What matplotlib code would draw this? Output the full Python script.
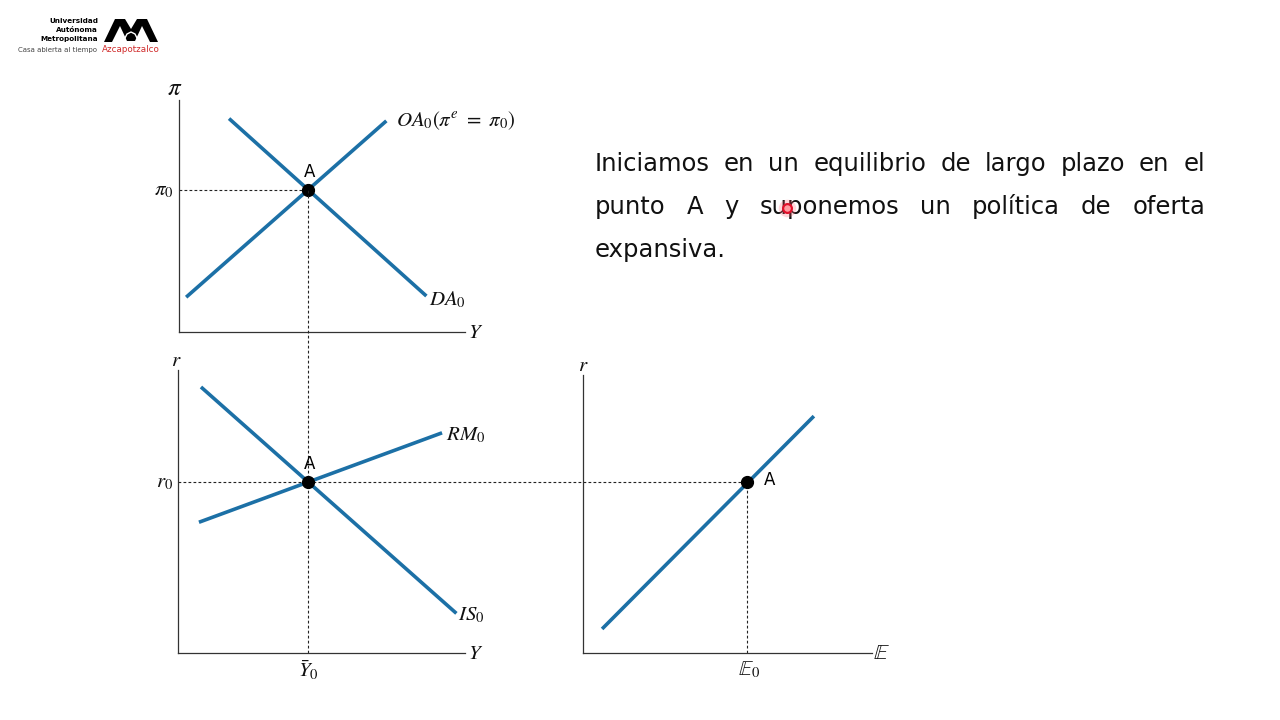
import matplotlib
matplotlib.use('Agg')
import matplotlib.pyplot as plt
from matplotlib.patches import Polygon

plt.rcParams['mathtext.fontset'] = 'stix'

# Datos del esquema (coordenadas propias de cada panel, 0..10)
# panel superior: OA0 y DA0
oa0_x = [0.25, 7.25]
oa0_y = [1.5, 9.1]
da0_x = [1.75, 8.65]
da0_y = [9.2, 1.55]
punto_a_sup = (4.5, 6.1)

# panel inferior izquierdo: IS0 y RM0
is0_x = [0.8, 9.7]
is0_y = [9.4, 1.4]
rm0_x = [0.73, 9.2]
rm0_y = [4.62, 7.78]
punto_a_inf = (4.53, 6.03)

# panel derecho
recta_x = [0.66, 7.99]
recta_y = [0.85, 8.37]
e0 = 5.67

texto_lineas = ["Iniciamos en un equilibrio de largo plazo en el",
                "punto A y suponemos un política de oferta",
                "expansiva."]

azul = '#1c70a6'
W, H = 1280, 720


def caja(x0, y0, x1, y1):
    return [x0 / W, 1 - y1 / H, (x1 - x0) / W, (y1 - y0) / H]


def ejes(ax, ytop=10):
    ax.set_xlim(0, 10)
    ax.set_ylim(0, 10)
    for s in ['top', 'right']:
        ax.spines[s].set_visible(False)
    for s in ['left', 'bottom']:
        ax.spines[s].set_color('#333333')
        ax.spines[s].set_linewidth(0.9)
    ax.spines['left'].set_bounds(0, ytop)
    ax.set_xticks([])
    ax.set_yticks([])
    ax.patch.set_alpha(0)


def pt(px):
    return px * 0.72


fig = plt.figure(figsize=(12.8, 7.2), dpi=100)
fig.patch.set_facecolor('white')

ax_sup = fig.add_axes(caja(179, 100, 465, 332))
ax_inf = fig.add_axes(caja(178, 370, 465, 653))
ax_der = fig.add_axes(caja(583, 370, 872, 653))
for a in (ax_sup, ax_inf):
    ejes(a)
ejes(ax_der, ytop=9.82)

lw = 2.6
guion = dict(color='#222222', lw=0.8, linestyle=(0, (2.5, 2)), clip_on=False)
lab = dict(fontsize=15, color='#111111')
letra_a = dict(fontsize=12, family='DejaVu Sans', color='black')

# ---- panel superior
ax_sup.plot(oa0_x, oa0_y, color=azul, lw=lw, solid_capstyle='butt')
ax_sup.plot(da0_x, da0_y, color=azul, lw=lw, solid_capstyle='butt')
ax_sup.plot([0, punto_a_sup[0]], [punto_a_sup[1]] * 2, **guion)
ax_sup.plot(*punto_a_sup, 'o', color='black', ms=8.5, zorder=5)
ax_sup.annotate('A', punto_a_sup, xytext=(pt(2), pt(18)), textcoords='offset points',
                ha='center', va='center', **letra_a)
ax_sup.annotate(r'$OA_0(\pi^e\ =\ \pi_0)$', (oa0_x[1], oa0_y[1]), xytext=(pt(10), 0),
                textcoords='offset points', ha='left', va='center', **lab)
ax_sup.annotate(r'$DA_0$', (da0_x[1], da0_y[1]), xytext=(pt(3), pt(-4)),
                textcoords='offset points', ha='left', va='center', **lab)
ax_sup.annotate(r'$\pi_0$', (0, punto_a_sup[1]), xytext=(pt(-5), 0),
                textcoords='offset points', ha='right', va='center', **lab)
ax_sup.annotate(r'$\pi$', (0, 10), xytext=(pt(-4), pt(12)), textcoords='offset points',
                ha='center', va='center', fontsize=18, color='#111111')
ax_sup.annotate(r'$Y$', (10, 0), xytext=(pt(11), 0), textcoords='offset points',
                ha='center', va='center', **lab)

# ---- panel inferior izquierdo
ax_inf.plot(is0_x, is0_y, color=azul, lw=lw, solid_capstyle='butt')
ax_inf.plot(rm0_x, rm0_y, color=azul, lw=lw, solid_capstyle='butt')
ax_inf.plot(*punto_a_inf, 'o', color='black', ms=8.5, zorder=5)
ax_inf.annotate('A', punto_a_inf, xytext=(pt(2), pt(18)), textcoords='offset points',
                ha='center', va='center', **letra_a)
ax_inf.annotate(r'$RM_0$', (rm0_x[1], rm0_y[1]), xytext=(pt(4), pt(-2)),
                textcoords='offset points', ha='left', va='center', **lab)
ax_inf.annotate(r'$IS_0$', (is0_x[1], is0_y[1]), xytext=(pt(2), pt(-2)),
                textcoords='offset points', ha='left', va='center', **lab)
ax_inf.annotate(r'$r_0$', (0, punto_a_inf[1]), xytext=(pt(-5), 0),
                textcoords='offset points', ha='right', va='center', **lab)
ax_inf.annotate(r'$r$', (0, 10), xytext=(pt(-2), pt(10)), textcoords='offset points',
                ha='center', va='center', **lab)
ax_inf.annotate(r'$Y$', (10, 0), xytext=(pt(11), 0), textcoords='offset points',
                ha='center', va='center', **lab)
ax_inf.annotate(r'$\bar{Y}_0$', (punto_a_inf[0], 0), xytext=(0, pt(-17)),
                textcoords='offset points', ha='center', va='center', **lab)

# ---- panel derecho
ax_der.plot(recta_x, recta_y, color=azul, lw=lw, solid_capstyle='butt')
ax_der.plot([e0, e0], [0, punto_a_inf[1]], **guion)
ax_der.plot(e0, punto_a_inf[1], 'o', color='black', ms=8.5, zorder=5)
ax_der.annotate('A', (e0, punto_a_inf[1]), xytext=(pt(23), pt(2)), textcoords='offset points',
                ha='center', va='center', **letra_a)
ax_der.annotate(r'$r$', (0, 9.82), xytext=(0, pt(10)), textcoords='offset points',
                ha='center', va='center', **lab)
ax_der.annotate(r'$\mathbb{E}$', (10, 0), xytext=(pt(9), 0), textcoords='offset points',
                ha='center', va='center', fontsize=16, color='#111111')
ax_der.annotate(r'$\mathbb{E}_0$', (e0, 0), xytext=(pt(2), pt(-17)),
                textcoords='offset points', ha='center', va='center', **lab)

# lineas punteadas que cruzan paneles
fin_x = ax_inf.transData.inverted().transform(
    ax_der.transData.transform((e0, punto_a_inf[1])))[0]
ax_inf.plot([0, fin_x], [punto_a_inf[1]] * 2, **guion)
arriba_y = ax_inf.transData.inverted().transform(
    ax_sup.transData.transform(punto_a_sup))[1]
ax_inf.plot([punto_a_inf[0]] * 2, [0, arriba_y], **guion)

# ---- capa de texto en pixeles
ax_t = fig.add_axes([0, 0, 1, 1])
ax_t.set_xlim(0, W)
ax_t.set_ylim(H, 0)
ax_t.axis('off')
ax_t.patch.set_alpha(0)

fig.canvas.draw()
rend = fig.canvas.get_renderer()
x_ini, x_fin = 595, 1205
bases = [171, 214, 257]
for i, linea in enumerate(texto_lineas):
    palabras = linea.split()
    objs = [ax_t.text(0, bases[i], p, fontsize=17.5, family='DejaVu Sans',
                      color='#111111', va='baseline', ha='left') for p in palabras]
    anchos = [o.get_window_extent(rend).width for o in objs]
    if i < len(texto_lineas) - 1 and len(palabras) > 1:
        hueco = (x_fin - x_ini - sum(anchos)) / (len(palabras) - 1)
    else:
        hueco = 12
    x = x_ini
    for o, w in zip(objs, anchos):
        o.set_x(x)
        x += w + hueco

# puntero rojo del video
ax_t.scatter([787], [208], s=160, color='#ff6070', alpha=0.25, lw=0, zorder=6)
ax_t.scatter([787], [208], s=40, facecolor='#ff9aa0', edgecolor='#e0102a', lw=1.6, zorder=7)

# logo
ax_t.text(98, 21, 'Universidad', fontsize=5.2, fontweight='bold', ha='right', va='center')
ax_t.text(98, 30, 'Autónoma', fontsize=5.2, fontweight='bold', ha='right', va='center')
ax_t.text(98, 39, 'Metropolitana', fontsize=5.2, fontweight='bold', ha='right', va='center')
ax_t.text(97, 50, 'Casa abierta al tiempo', fontsize=5.0, color='#444444', ha='right', va='center')
ax_t.text(102, 50, 'Azcapotzalco', fontsize=6.3, color='#d02a2a', ha='left', va='center')
logo = [(104, 42), (115, 19), (125, 19), (131, 29), (137, 19), (147, 19), (158, 42),
        (150, 42), (142, 26), (135, 41), (127, 41), (120, 26), (112, 42)]
ax_t.add_patch(Polygon(logo, closed=True, color='black', lw=0))
ax_t.plot([124, 127, 131, 135, 138], [40, 34, 32, 34, 40], color='white', lw=1.0)

fig.savefig('out.png', dpi=100, facecolor='white')
